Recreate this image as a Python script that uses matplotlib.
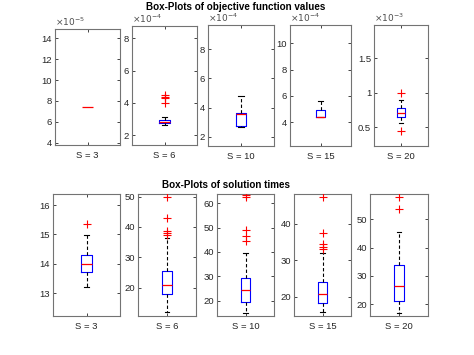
import matplotlib
matplotlib.use("Agg")
import matplotlib.pyplot as plt
from matplotlib.ticker import FuncFormatter

plt.rcParams['font.family'] = ['Liberation Sans', 'DejaVu Sans']

# group labels
groups = ["S = 3", "S = 6", "S = 10", "S = 15", "S = 20"]

# objective function values (box statistics)
obj_whislo = [7.42e-5, 2.62e-4, 2.65e-4, 4.37e-4, 0.56e-3]
obj_q1 = [7.42e-5, 2.73e-4, 2.73e-4, 4.37e-4, 0.65e-3]
obj_med = [7.42e-5, 2.83e-4, 3.54e-4, 4.44e-4, 0.71e-3]
obj_q3 = [7.42e-5, 2.93e-4, 3.65e-4, 4.95e-4, 0.774e-3]
obj_whishi = [7.42e-5, 3.14e-4, 4.80e-4, 5.60e-4, 0.90e-3]
obj_fliers = [[], [3.96e-4, 4.27e-4, 4.36e-4, 4.48e-4], [], [], [0.44e-3, 1.0e-3]]
obj_ylim = [(3.78e-5, 14.9e-5), (1.38e-4, 8.76e-4), (1.36e-4, 9.67e-4),
            (2.2e-4, 11.39e-4), (0.23e-3, 1.98e-3)]
obj_ticks = [[4, 6, 8, 10, 12, 14], [2, 4, 6, 8], [2, 4, 6, 8], [4, 6, 8, 10], [0.5, 1, 1.5]]
obj_exp = [-5, -4, -4, -4, -3]

# solution times
time_whislo = [13.2, 11.9, 15.0, 15.9, 16.9]
time_q1 = [13.73, 17.9, 19.6, 18.4, 21.1]
time_med = [14.0, 20.9, 24.5, 20.7, 26.5]
time_q3 = [14.3, 25.3, 29.5, 24.1, 33.8]
time_whishi = [14.97, 36.5, 39.5, 31.9, 45.6]
time_fliers = [[15.35], [37.4, 38.1, 38.8, 42.9, 49.8], [44.3, 46.4, 49.2, 62.6, 63.2],
               [33.0, 33.6, 34.3, 37.5, 47.2], [53.6, 57.8]]
time_ylim = [(12.22, 16.38), (10.6, 50.9), (13.75, 63.75), (14.75, 48.1), (15.85, 58.9)]
time_ticks = [[13, 14, 15, 16], [20, 30, 40, 50], [20, 30, 40, 50, 60], [20, 30, 40], [20, 30, 40, 50]]

W, H = 474, 355
fig = plt.figure(figsize=(W / 100, H / 100), dpi=100)

# axes boxes in pixels (left, top, right, bottom)
top_px = [(55, 29, 120, 145), (132, 26, 197, 145), (208, 25, 274, 146),
          (290, 25, 351, 146), (374, 25, 428, 146)]
bot_px = [(53, 194, 120, 316), (138, 194, 196, 316), (217, 194, 274, 316),
          (294, 194, 351, 316), (370, 194, 428, 316)]


def make_ax(px):
    l, t, r, b = px
    return fig.add_axes([l / W, 1 - b / H, (r - l) / W, (b - t) / H])


def draw_box(ax, stats, label, ylim, ticks, scale=1.0, exp=None):
    flat = stats['q1'] == stats['q3']
    ax.bxp([stats], positions=[1], widths=0.16, showfliers=True,
           boxprops=dict(color='blue', linewidth=0.8, alpha=0 if flat else 1),
           whiskerprops=dict(color='black', linestyle=(0, (3, 2)), linewidth=0.8,
                             alpha=0 if flat else 1),
           capprops=dict(color='black', linewidth=0.8, alpha=0 if flat else 1),
           medianprops=dict(color='red', linewidth=0.9, zorder=5),
           flierprops=dict(marker='+', color='red', markeredgecolor='red',
                           markerfacecolor='red', markersize=5.5,
                           markeredgewidth=0.8, linestyle='none', zorder=6),
           capwidths=0.08)
    ax.set_xlim(0.5, 1.5)
    ax.set_ylim(*ylim)
    ax.set_xticks([1])
    ax.set_xticklabels([label], fontsize=7.5, color='0.15')
    ax.set_yticks([v * scale for v in ticks])
    ax.yaxis.set_major_formatter(FuncFormatter(lambda v, _: f"{v / scale:g}"))
    ax.tick_params(direction='in', length=2, width=0.6, top=True, right=True,
                   labelsize=6.8, colors='0.15', pad=2)
    ax.tick_params(axis='x', pad=4)
    for s in ax.spines.values():
        s.set_color('0.45')
        s.set_linewidth(0.8)
    if exp is not None:
        ax.text(0.0, 1.01, r'$\times10^{%d}$' % exp, transform=ax.transAxes,
                ha='left', va='bottom', fontsize=6.5, color='0.3')


for i in range(5):
    st = dict(med=obj_med[i], q1=obj_q1[i], q3=obj_q3[i], whislo=obj_whislo[i],
              whishi=obj_whishi[i], fliers=obj_fliers[i])
    ax = make_ax(top_px[i])
    draw_box(ax, st, groups[i], obj_ylim[i], obj_ticks[i], 10.0 ** obj_exp[i], obj_exp[i])

for i in range(5):
    st = dict(med=time_med[i], q1=time_q1[i], q3=time_q3[i], whislo=time_whislo[i],
              whishi=time_whishi[i], fliers=time_fliers[i])
    ax = make_ax(bot_px[i])
    draw_box(ax, st, groups[i], time_ylim[i], time_ticks[i])

fig.text(236 / W, 1 - 7 / H, "Box-Plots of objective function values", ha='center',
         va='center', fontsize=7.1, fontweight='bold')
fig.text(226 / W, 1 - 185 / H, "Box-Plots of solution times", ha='center',
         va='center', fontsize=7.1, fontweight='bold')

fig.savefig("out.png", dpi=100)
